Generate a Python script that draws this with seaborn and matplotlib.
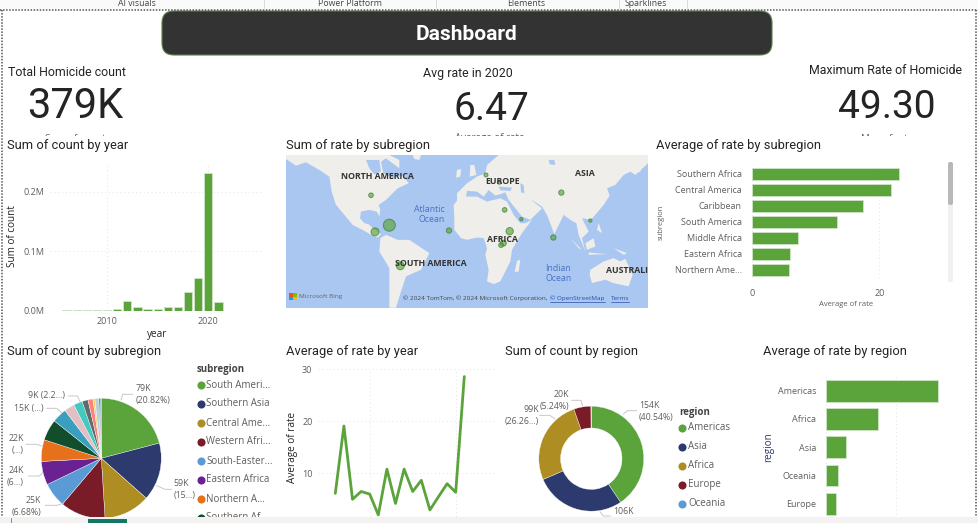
import matplotlib
matplotlib.use("Agg")
import matplotlib.pyplot as plt
from matplotlib.patches import FancyBboxPatch, Polygon, Rectangle
import seaborn as sns

W, H = 979, 523

# ---------- data ----------
years = list(range(2006, 2022))
count_by_year = [1000, 1000, 2000, 1000, 1500, 3000, 16000, 6000, 3500, 3500, 6500, 7500, 32000, 55000, 232000, 15000]
rate_by_year = [6.15, 19.1, 5.0, 6.5, 6.0, 2.0, 10.8, 4.2, 10.8, 6.5, 8.65, 2.95, 5.5, 8.0, 6.35, 28.6]

sub_names = ["Southern Africa", "Central America", "Caribbean", "South America", "Middle Africa", "Eastern Africa", "Northern Ame..."]
sub_rates = [23.1, 21.8, 17.5, 13.3, 7.3, 6.06, 5.85]

region_names = ["Americas", "Africa", "Asia", "Oceania", "Europe"]
region_rates = [16.05, 7.4, 2.8, 1.76, 1.5]

pie_counts = [79, 59, 47, 46, 25, 24, 22, 21.5, 15, 10.5, 9, 6, 5, 2, 4, 1.5, 1]
pie_colors = ["#5BA33B", "#2D3A6E", "#AE8E22", "#7A1C28", "#5B9BD5", "#6A2191", "#E7711B", "#134E2C",
              "#3A9EBE", "#E3BFC3", "#45C9BF", "#5F6B6D", "#FB8281", "#F4D25A", "#B8D0D8", "#A66999", "#3599B8"]
sub_legend = ["South Ameri...", "Southern Asia", "Central Ame...", "Western Afri...", "South-Easter...",
              "Eastern Africa", "Northern A...", "Southern Af..."]

donut_counts = [154, 106, 99, 20, 0.4]
donut_legend = ["Americas", "Asia", "Africa", "Europe", "Oceania"]

# map bubbles, in map picture units (3 units = 1 pixel)
bubble_x = [255, 310, 267, 343, 489, 600, 640, 656, 671, 706, 652, 645, 802, 826, 913]
bubble_y = [121, 211, 231, 333, 227, 60, 82, 165, 229, 193, 265, 271, 248, 113, 197]
bubble_r = [7, 18, 12, 12, 8, 6, 6, 7, 11, 5, 9, 7, 8, 8, 5]

# west half of the map
land_west = [
    [(0, 12), (30, 32), (60, 22), (100, 45), (130, 65), (137, 110), (150, 150), (175, 180), (200, 210), (235, 228), (255, 240), (275, 248),
     (285, 238), (262, 222), (248, 208), (235, 205), (222, 190), (225, 170), (250, 165), (272, 170), (280, 185), (283, 165), (278, 150),
     (300, 135), (335, 100), (368, 85), (350, 62), (320, 70), (292, 55), (285, 20), (300, 10), (340, 40), (340, 15), (310, 0), (0, 0)],
    [(380, 0), (405, 0), (400, 15), (385, 12)],
    [(283, 250), (300, 240), (335, 255), (370, 255), (430, 295), (405, 345), (360, 365), (345, 410), (330, 459), (310, 459), (310, 400), (310, 340), (280, 290)],
]
# east half of the map, shifted by 543 when drawn
land_east = [
    [(-30, 140), (-30, 115), (-20, 105), (0, 85), (30, 65), (55, 55), (60, 30), (95, 0), (543, 0), (543, 25), (505, 60), (490, 50), (470, 60),
     (445, 90), (420, 100), (428, 122), (410, 150), (372, 195), (345, 190), (365, 230), (345, 250), (355, 290), (335, 240), (328, 205), (310, 195),
     (290, 180), (262, 238), (240, 180), (225, 155), (190, 132), (205, 145), (225, 160), (190, 195), (165, 185), (125, 135), (115, 112), (100, 118),
     (85, 122), (65, 105), (50, 125), (30, 110), (0, 108), (-5, 135)],
    [(-40, 150), (-38, 195), (-38, 225), (-18, 250), (0, 255), (30, 248), (50, 250), (60, 280), (55, 300), (65, 345), (60, 380), (80, 388), (100, 380),
     (120, 340), (130, 320), (135, 285), (165, 235), (195, 195), (175, 205), (160, 205), (140, 180), (120, 140), (100, 130), (60, 140), (30, 125), (0, 125), (-20, 125)],
    [(150, 318), (160, 315), (155, 350), (143, 352)],
    [(370, 345), (410, 320), (440, 310), (460, 320), (475, 312), (497, 360), (485, 395), (440, 385), (415, 375), (375, 385), (368, 360)],
    [(310, 250), (345, 285), (365, 295), (335, 280)],
    [(355, 265), (380, 250), (385, 275), (360, 285)],
    [(365, 293), (420, 298), (365, 300)],
    [(440, 280), (480, 295), (470, 300)],
    [(395, 205), (405, 235), (390, 225)],
    [(505, 55), (525, 30), (520, 50)],
    [(10, 30), (22, 30), (28, 60), (8, 65)],
    [(-30, 45), (-18, 42), (-20, 65), (-33, 68)],
]
water_east = [
    [(95, 95), (135, 98), (130, 108), (100, 106)],
    [(160, 85), (170, 90), (172, 115), (162, 112)],
    [(245, 15), (262, 15), (265, 30), (248, 28)],
]
water_west = [
    [(240, 15), (280, 15), (285, 50), (265, 58), (250, 40)],
]

GREEN = "#5BA33B"
EDGE = "#CFE5C5"
GRAY = "#605E5C"
DARK = "#252423"
OCEAN = "#A9C7F0"
LAND = "#EFEEEA"
TITLE_FONT = "Roboto"
BODY_FONT = "Open Sans"

sns.set_theme(style="white")
plt.rcParams["font.family"] = BODY_FONT

fig = plt.figure(figsize=(W / 100, H / 100), dpi=100, facecolor="white")


def px_axes(left, top, right, bottom):
    return fig.add_axes([left / W, 1 - bottom / H, (right - left) / W, (bottom - top) / H], facecolor="none")


def clean(ax, xgrid=True, ygrid=True):
    sns.despine(ax=ax, left=True, bottom=True)
    ax.tick_params(length=0, labelsize=6.5, labelcolor=GRAY, pad=4)
    ax.set_axisbelow(True)
    if xgrid:
        ax.grid(axis="x", color="#E4E4E4", linestyle=(0, (1, 3)), linewidth=0.7)
    if ygrid:
        ax.grid(axis="y", color="#E4E4E4", linestyle=(0, (1, 3)), linewidth=0.7)
    ax.set_xlabel("")
    ax.set_ylabel("")


# ---------- sum of count by year ----------
ax = px_axes(50, 163, 262, 311)
sns.barplot(x=years, y=count_by_year, native_scale=True, color=GREEN, saturation=1, width=0.82,
            edgecolor=EDGE, linewidth=0.6, ax=ax)
clean(ax)
ax.set_xlim(2004.36, 2025.3)
ax.set_ylim(0, 248700)
ax.set_xticks([2010, 2020])
ax.set_yticks([0, 100000, 200000])
ax.set_yticklabels(["0.0M", "0.1M", "0.2M"])

# ---------- map ----------
ax = px_axes(286, 155, 648, 307.7)
ax.set_facecolor(OCEAN)
for poly in land_west:
    ax.add_patch(Polygon(poly, closed=True, facecolor=LAND, edgecolor="none"))
for poly in land_east:
    ax.add_patch(Polygon([(x + 543, y) for x, y in poly], closed=True, facecolor=LAND, edgecolor="none"))
for poly in water_west:
    ax.add_patch(Polygon(poly, closed=True, facecolor=OCEAN, edgecolor="none"))
for poly in water_east:
    ax.add_patch(Polygon([(x + 543, y) for x, y in poly], closed=True, facecolor=OCEAN, edgecolor="none"))
bubble_s = [(2 * r / 3 * 0.72) ** 2 for r in bubble_r]
sns.scatterplot(x=bubble_x, y=bubble_y, s=bubble_s, color=GREEN, alpha=0.65, edgecolor="#2F7A1F", linewidth=0.7, ax=ax, zorder=3)
ax.set_xlim(0, 1086)
ax.set_ylim(459, 0)
ax.set_xticks([])
ax.set_yticks([])
sns.despine(ax=ax, left=True, bottom=True)
for name, x, y in [("NORTH AMERICA", 275, 65), ("EUROPE", 649, 80), ("ASIA", 898, 56), ("AFRICA", 649, 253),
                   ("SOUTH AMERICA", 434, 325), ("AUSTRALIA", 1032, 347)]:
    ax.text(x, y, name, fontsize=6.3, fontweight="bold", color="#333333", ha="center", va="center", clip_on=True, zorder=4)
for name, x, y in [("Atlantic", 431, 165), ("Ocean", 436, 194), ("Indian", 816, 341), ("Ocean", 817, 370)]:
    ax.text(x, y, name, fontsize=6.3, color="#4A70C4", ha="center", va="center", zorder=4)
ax.text(39, 426, "Microsoft Bing", fontsize=4.6, color="#666666", va="center", zorder=4)
for c, x, y in [("#F25022", 10, 415), ("#7FBA00", 21, 415), ("#00A4EF", 10, 426), ("#FFB900", 21, 426)]:
    ax.add_patch(Rectangle((x, y), 11, 11, facecolor=c, edgecolor="none", zorder=4))
ax.text(352, 431, "© 2024 TomTom, © 2024 Microsoft Corporation,", fontsize=4.6, color="#444444", va="center", zorder=4)
ax.text(793, 431, "© OpenStreetMap", fontsize=4.6, color="#2B4FA8", va="center", zorder=4)
ax.text(975, 431, "Terms", fontsize=4.6, color="#2B4FA8", va="center", zorder=4)
ax.plot([793, 957], [442, 442], color="#2B4FA8", linewidth=0.5, zorder=4)
ax.plot([975, 1030], [442, 442], color="#2B4FA8", linewidth=0.5, zorder=4)

# ---------- average rate by subregion ----------
ax = px_axes(751.7, 165.7, 940, 277.7)
sns.barplot(x=sub_rates, y=sub_names, orient="h", color=GREEN, saturation=1, width=0.76,
            edgecolor=EDGE, linewidth=0.6, ax=ax)
clean(ax, ygrid=False)
ax.set_xlim(0, 29.5)
ax.set_xticks([0, 20])
ax.tick_params(axis="x", pad=8)
ax.tick_params(axis="y", pad=7)

# ---------- pie ----------
ax = px_axes(31.3, 388.3, 171.3, 528.3)
ax.pie(pie_counts, colors=sns.color_palette(pie_colors), startangle=90, counterclock=False, radius=1,
       wedgeprops={"edgecolor": "white", "linewidth": 0.25})
ax.set_xlim(-70 / 60, 70 / 60)
ax.set_ylim(-70 / 60, 70 / 60)

# ---------- average rate by year ----------
ax = px_axes(318, 369.3, 495, 525.3)
sns.lineplot(x=years, y=rate_by_year, color=GREEN, linewidth=2, ax=ax)
clean(ax)
ax.set_xlim(2006 - (335.3 - 318) / 8.6, 2006 + (495 - 335.3) / 8.6)
ax.set_ylim(0, 30)
ax.set_xticks([2010, 2020])
ax.set_xticklabels([])
ax.set_yticks([10, 20, 30])

# ---------- donut ----------
ax = px_axes(531.3, 398.7, 651.3, 518.7)
ax.pie(donut_counts, colors=sns.color_palette(["#5BA33B", "#2D3A6E", "#AE8E22", "#7A1C28", "#5B9BD5"]), startangle=90,
       counterclock=False, radius=1, wedgeprops={"width": 0.415, "edgecolor": "white", "linewidth": 0.25})
ax.set_xlim(-60 / 52.5, 60 / 52.5)
ax.set_ylim(-60 / 52.5, 60 / 52.5)

# ---------- average rate by region ----------
ax = px_axes(826, 376.5, 966, 518)
sns.barplot(x=region_rates, y=region_names, orient="h", color=GREEN, saturation=1, width=0.77,
            edgecolor=EDGE, linewidth=0.6, ax=ax)
clean(ax, ygrid=False)
ax.set_xlim(0, 20)
ax.set_xticks([0, 10, 20])
ax.set_xticklabels([])
ax.tick_params(axis="y", pad=7)

# ---------- everything on top, in picture pixels ----------
ov = fig.add_axes([0, 0, 1, 1], facecolor="none", zorder=10)
ov.set_xlim(0, W)
ov.set_ylim(H, 0)
ov.axis("off")

# ribbon
ov.add_patch(Rectangle((0, 0), W, 9, facecolor="#FAFAFA", edgecolor="none"))
for x in [264, 436, 619, 687]:
    ov.plot([x, x], [0, 8], color="#D8D8D8", linewidth=0.7)
for x, t in [(137, "AI visuals"), (350, "Power Platform"), (526, "Elements"), (646, "Sparklines")]:
    ov.text(x, 3, t, fontsize=6.3, color="#444444", ha="center", va="center")

# report border
dots = (0, (1, 1))
ov.plot([0, W], [10, 10], color="#555555", linewidth=1.1, linestyle=dots)
ov.plot([2, 2], [10, 517], color="#555555", linewidth=1.1, linestyle=dots)
ov.plot([976, 976], [10, 517], color="#555555", linewidth=1.1, linestyle=dots)

# header
ov.add_patch(FancyBboxPatch((162, 11), 610, 44, boxstyle="round,pad=0,rounding_size=12",
                            facecolor="#333333", edgecolor="#5B7F4B", linewidth=0.8))
ov.text(467, 34, "Dashboard", fontsize=15, fontweight="bold", color="white", ha="center", va="center", family=TITLE_FONT)

# cards
for x, y, t, ha in [(8, 72, "Total Homicide count", "left"), (468, 73, "Avg rate in 2020", "center"), (886, 71, "Maximum Rate of Homicide", "center")]:
    ov.text(x, y, t, fontsize=8.9, color=DARK, ha=ha, va="center", family=TITLE_FONT)
for x, y, t, size in [(75, 107, "379K", 30), (491, 109, "6.47", 28), (887, 107, "49.30", 28)]:
    ov.text(x, y, t, fontsize=size, color=DARK, ha="center", va="center", family=TITLE_FONT)

# callout captions, only their tips show above the chart titles
clip = Rectangle((0, 120), W, 16, transform=ov.transData, facecolor="none", edgecolor="none")
ov.add_patch(clip)
for x, t in [(75, "Sum of count"), (490, "Average of rate"), (887, "Max of rate")]:
    cut = ov.text(x, 139, t, fontsize=7, color=GRAY, ha="center", va="center", clip_on=True)
    cut.set_clip_path(clip)

# chart titles
for x, y, t in [(7, 145, "Sum of count by year"), (286, 145, "Sum of rate by subregion"), (656, 145, "Average of rate by subregion"),
                (7, 352, "Sum of count by subregion"), (286, 352, "Average of rate by year"), (505, 352, "Sum of count by region"),
                (763, 352, "Average of rate by region")]:
    ov.text(x, y, t, fontsize=9.3, color=DARK, ha="left", va="center", family=TITLE_FONT)

# axis titles
ov.text(13, 236, "Sum of count", fontsize=7.2, color=DARK, rotation=90, ha="center", va="center")
ov.text(157, 334, "year", fontsize=7.2, color=DARK, ha="center", va="center")
ov.text(661, 222, "subregion", fontsize=5.5, color=GRAY, rotation=90, ha="center", va="center")
ov.text(846, 304, "Average of rate", fontsize=5.5, color=GRAY, ha="center", va="center")
ov.text(293, 447, "Average of rate", fontsize=7.2, color=DARK, rotation=90, ha="center", va="center")
ov.text(769, 447, "region", fontsize=7.2, color="#2D3A6E", rotation=90, ha="center", va="center")

# scroll bar
ov.add_patch(FancyBboxPatch((948, 162), 5, 120, boxstyle="round,pad=0,rounding_size=2", facecolor="#F0F0F0", edgecolor="none"))
ov.add_patch(FancyBboxPatch((948, 162), 5, 43, boxstyle="round,pad=0,rounding_size=2", facecolor="#B8B8B8", edgecolor="none"))

# pie labels
pie_labels = [(143, 388.7, "79K"), (152.7, 400.7, "(20.82%)"), (181.7, 483.7, "59K"), (185, 495.7, "(15...)"),
              (33.3, 500.7, "25K"), (26.7, 512.7, "(6.68%)"), (16.7, 470.3, "24K"), (15.3, 482.7, "(6...)"),
              (16, 438.7, "22K"), (17.3, 451, "(...)"), (29.3, 408.7, "15K (...)"), (46.7, 395.3, "9K (2.2...)")]
for x, y, t in pie_labels:
    ov.text(x, y, t, fontsize=6.3, color=GRAY, ha="center", va="center")
pie_leaders = [[(363, 180), (368, 163), (398, 163)], [(470, 437), (495, 448), (515, 448)], [(190, 490), (170, 496), (135, 496)],
               [(128, 398), (118, 408), (85, 408)], [(125, 318), (110, 313), (78, 313)], [(185, 218), (170, 205), (140, 205)],
               [(240, 185), (232, 168), (205, 168)]]
for line in pie_leaders:
    ov.plot([p[0] / 3 for p in line], [340 + p[1] / 3 for p in line], color="#C8C8C8", linewidth=0.7)

# donut labels
donut_labels = [(649, 405.3, "154K"), (656, 417.7, "(40.54%)"), (623.3, 511.7, "106K"), (531.7, 409.3, "99K"),
                (522, 421.7, "(26.26...)"), (561.7, 394.7, "20K"), (554.3, 406.7, "(5.24%)")]
for x, y, t in donut_labels:
    ov.text(x, y, t, fontsize=6.3, color=GRAY, ha="center", va="center")
donut_leaders = [[(370, 222), (382, 212), (410, 212)], [(300, 515), (310, 528), (332, 528)], [(165, 237), (150, 226), (118, 226)],
                 [(248, 197), (243, 181), (215, 181)]]
for line in donut_leaders:
    ov.plot([500 + p[0] / 3 for p in line], [340 + p[1] / 3 for p in line], color="#C8C8C8", linewidth=0.7)

# legends
ov.text(197, 369.7, "subregion", fontsize=7, fontweight="bold", color="#444444", va="center")
for i, t in enumerate(sub_legend):
    y = 385 + i * 19
    ov.scatter([200.7], [y], s=34, color=pie_colors[i], linewidths=0)
    ov.text(206.5, y, t, fontsize=7, color=GRAY, va="center")
ov.text(679, 412, "region", fontsize=7, fontweight="bold", color="#444444", va="center")
for i, t in enumerate(donut_legend):
    y = 427.5 + i * 19
    ov.scatter([682.3], [y], s=34, color=pie_colors[i], linewidths=0)
    ov.text(688.5, y, t, fontsize=7, color=GRAY, va="center")

# bottom strip of the page, hides what runs past it
ov.add_patch(Rectangle((0, 517), W, 6, facecolor="#F3F2F1", edgecolor="none", zorder=8))
ov.add_patch(Rectangle((88, 519), 39, 4, facecolor="#117865", edgecolor="none", zorder=9))
ov.plot([11.5, 11.5], [518, 523], color="#888888", linewidth=0.7, zorder=9)

fig.savefig("out.png", dpi=100)
